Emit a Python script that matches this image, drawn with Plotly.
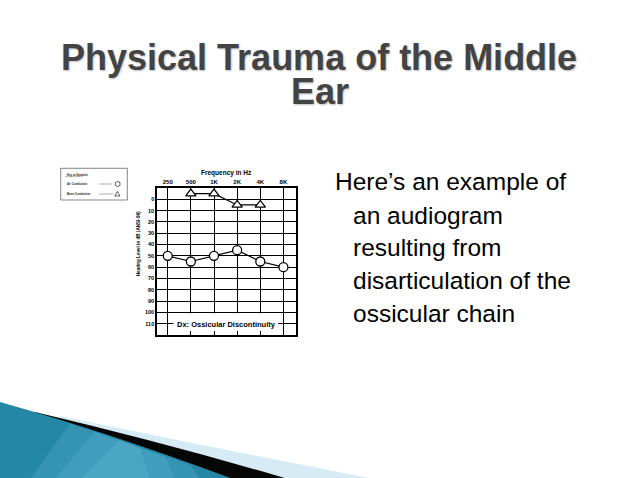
import plotly.graph_objects as go

# audiogram values
freq_labels = ["250", "500", "1K", "2K", "4K", "8K"]
air_freqs = ["250", "500", "1K", "2K", "4K", "8K"]
air_db = [50, 55, 50, 45, 55, 60]
bone_freqs = ["500", "1K", "2K", "4K"]
bone_db = [-5, -5, 5, 5]
db_ticks = [0, 10, 20, 30, 40, 50, 60, 70, 80, 90, 100, 110]

title_lines = ["Physical Trauma of the Middle", "Ear"]
body_lines = ["Here\u2019s an example of", "an audiogram", "resulting from",
              "disarticulation of the", "ossicular chain"]

W, H = 638, 478
FONT = "Liberation Sans"


def px(x):
    return x / W


def py(y):
    return 1 - y / H


def path(pts):
    # pts given in page pixels -> paper coords
    s = ""
    for cmd, coords in pts:
        s += cmd + " " + " ".join(
            f"{px(coords[i]):.4f},{py(coords[i + 1]):.4f}" for i in range(0, len(coords), 2)) + " "
    return s + "Z"


xi = {f: i for i, f in enumerate(freq_labels)}

fig = go.Figure()

fig.add_trace(go.Scatter(
    x=[xi[f] for f in bone_freqs], y=bone_db, mode="lines+markers",
    line=dict(color="black", width=1.2),
    marker=dict(symbol="triangle-up", size=9, color="white",
                line=dict(color="black", width=1.3)),
    hoverinfo="skip"))
fig.add_trace(go.Scatter(
    x=[xi[f] for f in air_freqs], y=air_db, mode="lines+markers",
    line=dict(color="black", width=1.2),
    marker=dict(symbol="circle", size=9, color="white",
                line=dict(color="black", width=1.3)),
    hoverinfo="skip"))

fig.update_xaxes(
    domain=[px(157.3), px(295.7)], range=[-0.45, 5.53], side="top",
    tickvals=list(range(len(freq_labels))), ticktext=freq_labels,
    tickfont=dict(family=FONT, size=6, color="black", weight="bold"),
    showgrid=True, gridcolor="black", gridwidth=1.2, zeroline=False,
    showline=True, mirror=True, linecolor="black", linewidth=2, ticks="",
    fixedrange=True)
fig.update_yaxes(
    domain=[py(335), py(188)], range=[120, -10],
    tickvals=db_ticks, ticktext=[str(v) for v in db_ticks],
    tickfont=dict(family=FONT, size=5.5, color="black", weight="bold"),
    showgrid=True, gridcolor="black", gridwidth=1.2, zeroline=False,
    showline=True, mirror=True, linecolor="black", linewidth=2, ticks="",
    fixedrange=True)

shapes = [
    # white patch behind the diagnosis label
    dict(type="rect", xref="x", yref="y", x0=0.25, x1=4.77, y0=100.8, y1=116.5,
         fillcolor="white", line=dict(width=0), layer="above"),
    # key to symbols box
    dict(type="rect", xref="paper", yref="paper", x0=px(60.7), x1=px(127.3),
         y0=py(200), y1=py(168.3), line=dict(color="#666666", width=0.8)),
    dict(type="line", xref="paper", yref="paper", x0=px(65), x1=px(83),
         y0=py(176.3), y1=py(176.3), line=dict(color="#666666", width=0.5)),
    dict(type="line", xref="paper", yref="paper", x0=px(99.3), x1=px(111.7),
         y0=py(184), y1=py(184), line=dict(color="#777777", width=0.6)),
    dict(type="line", xref="paper", yref="paper", x0=px(99), x1=px(113),
         y0=py(194), y1=py(194), line=dict(color="#777777", width=0.6)),
    dict(type="circle", xref="paper", yref="paper", x0=px(115.2), x1=px(120.2),
         y0=py(186.5), y1=py(181.5), line=dict(color="#333333", width=0.8)),
    dict(type="path", xref="paper", yref="paper",
         path=path([("M", [114.8, 196]), ("L", [117.3, 191.4]), ("L", [119.8, 196])]),
         line=dict(color="#333333", width=0.8)),
    # bottom swoosh
    dict(type="path", xref="paper", yref="paper",
         path=path([("M", [60, 416]), ("Q", [200, 445, 374, 479]), ("L", [0, 479])]),
         fillcolor="#d6ebf3", line=dict(width=0), layer="below"),
    dict(type="path", xref="paper", yref="paper",
         path=path([("M", [35, 412]), ("Q", [170, 444, 288, 479]), ("L", [0, 479])]),
         fillcolor="#050505", line=dict(width=0), layer="below"),
    dict(type="path", xref="paper", yref="paper",
         path=path([("M", [0, 402]), ("Q", [110, 433, 233, 479]), ("L", [0, 479])]),
         fillcolor="#2587a6", line=dict(width=0), layer="below"),
]
# soft lighter sheen in the middle of the teal band, built up in layers
for x_left, x_right in [(30, 200), (55, 175), (80, 150)]:
    shapes.append(dict(
        type="path", xref="paper", yref="paper",
        path=path([("M", [x_left, 479]), ("L", [x_left + 40, 402 + 0.31 * (x_left + 40)]),
                   ("L", [x_right - 10, 402 + 0.33 * (x_right - 10)]), ("L", [x_right, 479])]),
        fillcolor="rgba(110,195,222,0.22)", line=dict(width=0), layer="below"))

ann = []
title_font = dict(family=FONT, size=36, color="#434343", weight="bold",
                  shadow="1px 1px 2px rgba(0,0,0,0.25)")
ann.append(dict(x=px(319), y=py(57), text=title_lines[0], font=title_font))
ann.append(dict(x=px(320), y=py(92), text=title_lines[1], font=title_font))

body_y = [182, 215, 247.5, 280, 313]
for i, (t, y) in enumerate(zip(body_lines, body_y)):
    ann.append(dict(x=px(333 if i == 0 else 351), y=py(y), text=t, xanchor="left",
                    font=dict(family=FONT, size=24.5, color="black")))

small = dict(family=FONT, color="black", weight="bold")
ann.append(dict(x=px(226.5), y=py(172.7), text="Frequency in Hz",
                font=dict(size=6.5, **small)))
ann.append(dict(x=px(138.3), y=py(244), text="Hearing Level in dB (ANSI-96)",
                textangle=-90, font=dict(size=4.6, **small)))
ann.append(dict(x=px(226), y=py(324), text="Dx: Ossicular Discontinuity",
                font=dict(size=7.5, **small)))
key_font = dict(family=FONT, size=2.8, color="#222222", weight="bold")
ann.append(dict(x=px(65), y=py(174.5), text="Key to Symbols", xanchor="left", font=key_font))
ann.append(dict(x=px(65), y=py(184), text="Air Conduction", xanchor="left", font=key_font))
ann.append(dict(x=px(65), y=py(194), text="Bone Conduction", xanchor="left", font=key_font))

for a in ann:
    a.update(xref="paper", yref="paper", showarrow=False)
    a.setdefault("xanchor", "center")
    a.setdefault("yanchor", "middle")

fig.update_layout(
    width=W, height=H, margin=dict(l=0, r=0, t=0, b=0),
    paper_bgcolor="white", plot_bgcolor="white", showlegend=False,
    shapes=shapes, annotations=ann)

fig.write_html("out.html", config={"displayModeBar": False},
               post_script="document.body.style.margin='0px';"
                           "document.body.style.overflow='hidden';")
